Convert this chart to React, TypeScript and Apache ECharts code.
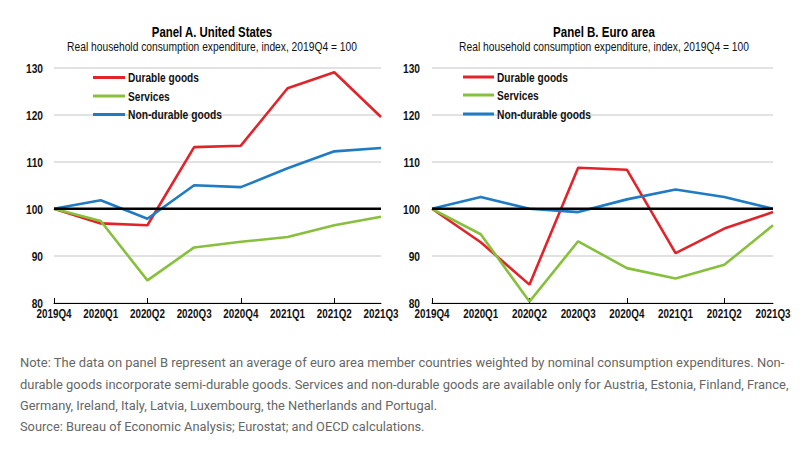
import React, { useEffect, useRef } from "react";
import * as echarts from "echarts";

const categories = ["2019Q4", "2020Q1", "2020Q2", "2020Q3", "2020Q4", "2021Q1", "2021Q2", "2021Q3"];
const seriesNames = ["Durable goods", "Services", "Non-durable goods"];

const usDurable = [100, 96.9, 96.5, 113.1, 113.4, 125.6, 129.0, 119.5];
const usServices = [100, 97.4, 84.8, 91.8, 93.0, 94.0, 96.5, 98.3];
const usNonDurable = [100, 101.8, 97.9, 105.0, 104.6, 108.6, 112.2, 112.9];

const euDurable = [100, 92.9, 83.9, 108.7, 108.3, 90.6, 95.8, 99.3];
const euServices = [100, 94.6, 80.3, 93.1, 87.4, 85.2, 88.1, 96.5];
const euNonDurable = [100, 102.5, 100.0, 99.3, 102.0, 104.1, 102.5, 100.0];

const baseline = [100, 100, 100, 100, 100, 100, 100, 100];
const yTicks = [80, 90, 100, 110, 120, 130];

const panelTitles = ["Panel A. United States", "Panel B. Euro area"];
const panelSubtitle = "Real household consumption expenditure, index, 2019Q4 = 100";

const noteLines = [
  "Note: The data on panel B represent an average of euro area member countries weighted by nominal consumption expenditures. Non-",
  "durable goods incorporate semi-durable goods. Services and non-durable goods are available only for Austria, Estonia, Finland, France,",
  "Germany, Ireland, Italy, Latvia, Luxembourg, the Netherlands and Portugal.",
  "Source: Bureau of Economic Analysis; Eurostat; and OECD calculations.",
];

const colors = ["#E2232A", "#87C03C", "#1F7BC4"];
const SANS = "'Liberation Sans', Arial, sans-serif";
const NOTE_FONT = "Roboto, 'Liberation Sans', sans-serif";

function measure(text: string, font: string): number {
  const c = document.createElement("canvas");
  const ctx = c.getContext("2d");
  if (!ctx) return text.length * 6;
  ctx.font = font;
  return ctx.measureText(text).width;
}

export default function App() {
  const ref = useRef<HTMLDivElement>(null);
  useEffect(() => {
    document.body.style.margin = "0";
    if (!ref.current) return;
    const chart = echarts.init(ref.current, undefined, { renderer: "svg" });

    const grids = [
      { left: 54, top: 67.5, width: 327, height: 235.5 },
      { left: 432, top: 67.5, width: 341, height: 235.5 },
    ];
    const data = [
      [usDurable, usServices, usNonDurable],
      [euDurable, euServices, euNonDurable],
    ];

    const xAxis = grids.map((_, i) => ({
      type: "category",
      gridIndex: i,
      data: categories,
      boundaryGap: false,
      axisLine: { lineStyle: { color: "#000", width: 1 } },
      axisTick: { inside: true, length: 5, lineStyle: { color: "#000" } },
      axisLabel: { show: false },
      splitLine: { show: false },
    }));

    const yAxis = grids.map((_, i) => ({
      type: "value",
      gridIndex: i,
      min: yTicks[0],
      max: yTicks[yTicks.length - 1],
      interval: 10,
      axisLine: { show: false },
      axisTick: { show: false },
      axisLabel: { show: false },
      splitLine: { lineStyle: { color: "#d9d9d9", width: 1.5 } },
    }));

    const series: any[] = [];
    data.forEach((panel, p) => {
      panel.forEach((vals, k) => {
        series.push({
          type: "line",
          name: seriesNames[k],
          xAxisIndex: p,
          yAxisIndex: p,
          data: vals,
          symbol: "none",
          lineStyle: { color: colors[k], width: 2.6 },
          itemStyle: { color: colors[k] },
          z: 2,
        });
      });
      series.push({
        type: "line",
        name: "baseline",
        xAxisIndex: p,
        yAxisIndex: p,
        data: baseline,
        symbol: "none",
        lineStyle: { color: "#000", width: 2.5 },
        z: 3,
        silent: true,
      });
    });

    chart.setOption({
      animation: false,
      backgroundColor: "#fff",
      grid: grids,
      xAxis,
      yAxis,
      series,
    });

    const graphics: any[] = [];
    const fitText = (
      text: string,
      x: number,
      y: number,
      opts: { size: number; weight?: string; family?: string; fill?: string; align?: string; target?: number; scale?: number }
    ) => {
      const weight = opts.weight || "normal";
      const family = opts.family || SANS;
      let sx = opts.scale ?? 1;
      if (opts.target) {
        const w = measure(text, `${weight} ${opts.size}px ${family}`);
        sx = w > 0 ? opts.target / w : 1;
      }
      graphics.push({
        type: "text",
        x,
        y,
        scaleX: sx,
        silent: true,
        style: {
          text,
          fontFamily: family,
          fontWeight: weight,
          fontSize: opts.size,
          fill: opts.fill || "#111",
          textAlign: opts.align || "left",
          textVerticalAlign: "middle",
        },
      });
    };

    // axis labels placed through the chart's scales
    const labelScaleX = 35 / measure("2019Q4", `bold 13px ${SANS}`);
    const labelScaleY = 17 / measure("130", `bold 13px ${SANS}`);
    const yLabelRight = [43, 420];
    [0, 1].forEach((p) => {
      categories.forEach((cat) => {
        const pt = chart.convertToPixel({ xAxisIndex: p, yAxisIndex: p }, [cat, yTicks[0]]) as number[];
        fitText(cat, pt[0], pt[1] + 10.5, { size: 13, weight: "bold", align: "center", scale: labelScaleX });
      });
      yTicks.forEach((v) => {
        const pt = chart.convertToPixel({ xAxisIndex: p, yAxisIndex: p }, [categories[0], v]) as number[];
        fitText(String(v), yLabelRight[p], pt[1], { size: 13, weight: "bold", align: "right", scale: labelScaleY });
      });
    });

    // titles
    const centers = [212, 604];
    const titleTargets = [121, 102];
    centers.forEach((cx, i) => {
      fitText(panelTitles[i], cx, 32, { size: 14, weight: "bold", align: "center", fill: "#000", target: titleTargets[i] });
      fitText(panelSubtitle, cx, 47, { size: 12.5, align: "center", target: 290 });
    });

    // legends
    const legendLines = [
      { x0: 93, x1: 125, tx: 128, ys: [77.5, 96, 114.5] },
      { x0: 463, x1: 494, tx: 497, ys: [77, 95, 114] },
    ];
    const legendTargets = [71, 41.7, 94];
    legendLines.forEach((lg) => {
      seriesNames.forEach((name, k) => {
        graphics.push({
          type: "line",
          silent: true,
          shape: { x1: lg.x0, y1: lg.ys[k], x2: lg.x1, y2: lg.ys[k] },
          style: { stroke: colors[k], lineWidth: 3 },
        });
        fitText(name, lg.tx, lg.ys[k], { size: 13.5, weight: "bold", target: legendTargets[k] });
      });
    });

    // notes
    const noteTargets = [765, 769, 418, 405];
    noteLines.forEach((line, i) => {
      fitText(line, 20, 362.7 + i * 21.3, { size: 13, family: NOTE_FONT, fill: "#666", target: noteTargets[i] });
    });

    chart.setOption({ graphic: graphics });
    return () => chart.dispose();
  }, []);
  return <div ref={ref} style={{ width: 803, height: 449 }} />;
}
